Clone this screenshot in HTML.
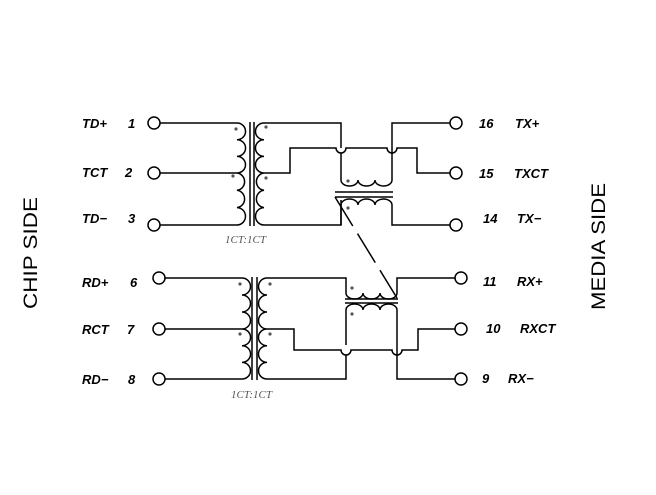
<!DOCTYPE html>
<html><head><meta charset="utf-8"><style>
html,body{margin:0;padding:0;background:#fff;}
svg{display:block}
.l{font-family:"Liberation Sans",sans-serif;font-weight:bold;font-style:italic;font-size:13px;fill:#000}
.c{font-family:"Liberation Serif",serif;font-style:italic;font-size:11px;fill:#555}
.s{font-family:"Liberation Sans",sans-serif;font-size:19px;fill:#000}
</style></head><body>
<svg width="656" height="495" viewBox="0 0 656 495" xmlns="http://www.w3.org/2000/svg">
<g fill="none" stroke="#000" stroke-width="1.5">
<!-- TOP: pin circles -->
<circle cx="154" cy="123" r="6"/><circle cx="154" cy="173" r="6"/><circle cx="154" cy="225" r="6"/>
<circle cx="456" cy="123" r="6"/><circle cx="456" cy="173" r="6"/><circle cx="456" cy="225" r="6"/>
<!-- left primary -->
<path d="M160,123 H237 a8.5,8.3 0 0 1 0,16.7 a8.5,8.3 0 0 1 0,16.7 a8.5,8.3 0 0 1 0,16.6 a8.5,8.7 0 0 1 0,17.3 a8.5,8.7 0 0 1 0,17.3 a8.5,8.7 0 0 1 0,17.4 H160"/>
<path d="M160,173 H237"/>
<line x1="250" y1="122" x2="250" y2="226"/><line x1="254" y1="122" x2="254" y2="226"/>
<!-- right secondary -->
<path d="M341,148 V123 H264 a8.5,8.3 0 0 0 0,16.7 a8.5,8.3 0 0 0 0,16.7 a8.5,8.3 0 0 0 0,16.6 a8.5,8.7 0 0 0 0,17.3 a8.5,8.7 0 0 0 0,17.3 a8.5,8.7 0 0 0 0,17.4 H341 V200"/>
<path d="M341,153 V180 a8.5,6 0 0 0 17,0 a8.5,6 0 0 0 17,0 a8.5,6 0 0 0 17,0 V123 H450"/>
<path d="M264,173 H290 V148 H336 a5,5 0 0 0 10,0 H387 a5,5 0 0 0 10,0 H417 V173 H450"/>
<path d="M341,205 a8.5,6 0 0 1 17,0 a8.5,6 0 0 1 17,0 a8.5,6 0 0 1 17,0 V225 H450"/>
<path d="M341,205 V225"/>
<line x1="335" y1="192" x2="393" y2="192"/><line x1="335" y1="197" x2="393" y2="197"/>
<!-- dashed -->
<line x1="335" y1="197" x2="397" y2="298" stroke-dasharray="34,9"/>
<!-- BOTTOM -->
<circle cx="159" cy="278" r="6"/><circle cx="159" cy="329" r="6"/><circle cx="159" cy="379" r="6"/>
<circle cx="461" cy="278" r="6"/><circle cx="461" cy="329" r="6"/><circle cx="461" cy="379" r="6"/>
<path d="M165,278 H242 a8.5,8.5 0 0 1 0,17 a8.5,8.5 0 0 1 0,17 a8.5,8.5 0 0 1 0,17 a8.5,8.3 0 0 1 0,16.7 a8.5,8.3 0 0 1 0,16.7 a8.5,8.3 0 0 1 0,16.6 H165"/>
<path d="M165,329 H242"/>
<line x1="252" y1="277" x2="252" y2="380"/><line x1="257" y1="277" x2="257" y2="380"/>
<path d="M346,293 V278 H267 a8.5,8.5 0 0 0 0,17 a8.5,8.5 0 0 0 0,17 a8.5,8.5 0 0 0 0,17 a8.5,8.3 0 0 0 0,16.7 a8.5,8.3 0 0 0 0,16.7 a8.5,8.3 0 0 0 0,16.6 H346 V355"/>
<path d="M346,293 a8.5,6 0 0 0 17,0 a8.5,6 0 0 0 17,0 a8.5,6 0 0 0 17,0 V278 H455"/>
<line x1="345" y1="299" x2="398" y2="299"/><line x1="345" y1="303" x2="398" y2="303"/>
<path d="M346,345 V310 a8.5,6 0 0 1 17,0 a8.5,6 0 0 1 17,0 a8.5,6 0 0 1 17,0 V379 H455"/>
<path d="M267,329 H294 V350 H341 a5,5 0 0 0 10,0 H392 a5,5 0 0 0 10,0 H418 V329 H455"/>
</g>
<g fill="#555">
<circle cx="236" cy="129" r="1.6"/><circle cx="233" cy="176" r="1.6"/>
<circle cx="266" cy="127" r="1.6"/><circle cx="266" cy="178" r="1.6"/>
<circle cx="348" cy="181" r="1.6"/><circle cx="348" cy="208" r="1.6"/>
<circle cx="240" cy="284" r="1.6"/><circle cx="240" cy="334" r="1.6"/>
<circle cx="270" cy="284" r="1.6"/><circle cx="270" cy="334" r="1.6"/>
<circle cx="352" cy="288" r="1.6"/><circle cx="352" cy="314" r="1.6"/>
</g>
<text class="c" x="225" y="243">1CT:1CT</text>
<text class="c" x="231" y="398">1CT:1CT</text>
<text class="l" x="82" y="128">TD+</text><text class="l" x="128" y="128">1</text>
<text class="l" x="82" y="177">TCT</text><text class="l" x="125" y="177">2</text>
<text class="l" x="82" y="223">TD−</text><text class="l" x="128" y="223">3</text>
<text class="l" x="82" y="287">RD+</text><text class="l" x="130" y="287">6</text>
<text class="l" x="82" y="334">RCT</text><text class="l" x="127" y="334">7</text>
<text class="l" x="82" y="384">RD−</text><text class="l" x="128" y="384">8</text>
<text class="l" x="479" y="128">16</text><text class="l" x="515" y="128">TX+</text>
<text class="l" x="479" y="178">15</text><text class="l" x="514" y="178">TXCT</text>
<text class="l" x="483" y="223">14</text><text class="l" x="517" y="223">TX−</text>
<text class="l" x="483" y="286">11</text><text class="l" x="517" y="286">RX+</text>
<text class="l" x="486" y="333">10</text><text class="l" x="520" y="333">RXCT</text>
<text class="l" x="482" y="383">9</text><text class="l" x="508" y="383">RX−</text>
<text class="s" transform="translate(37,309) rotate(-90)" textLength="112" lengthAdjust="spacingAndGlyphs">CHIP SIDE</text>
<text class="s" transform="translate(605,310) rotate(-90)" textLength="127" lengthAdjust="spacingAndGlyphs">MEDIA SIDE</text>
</svg>
</body></html>
